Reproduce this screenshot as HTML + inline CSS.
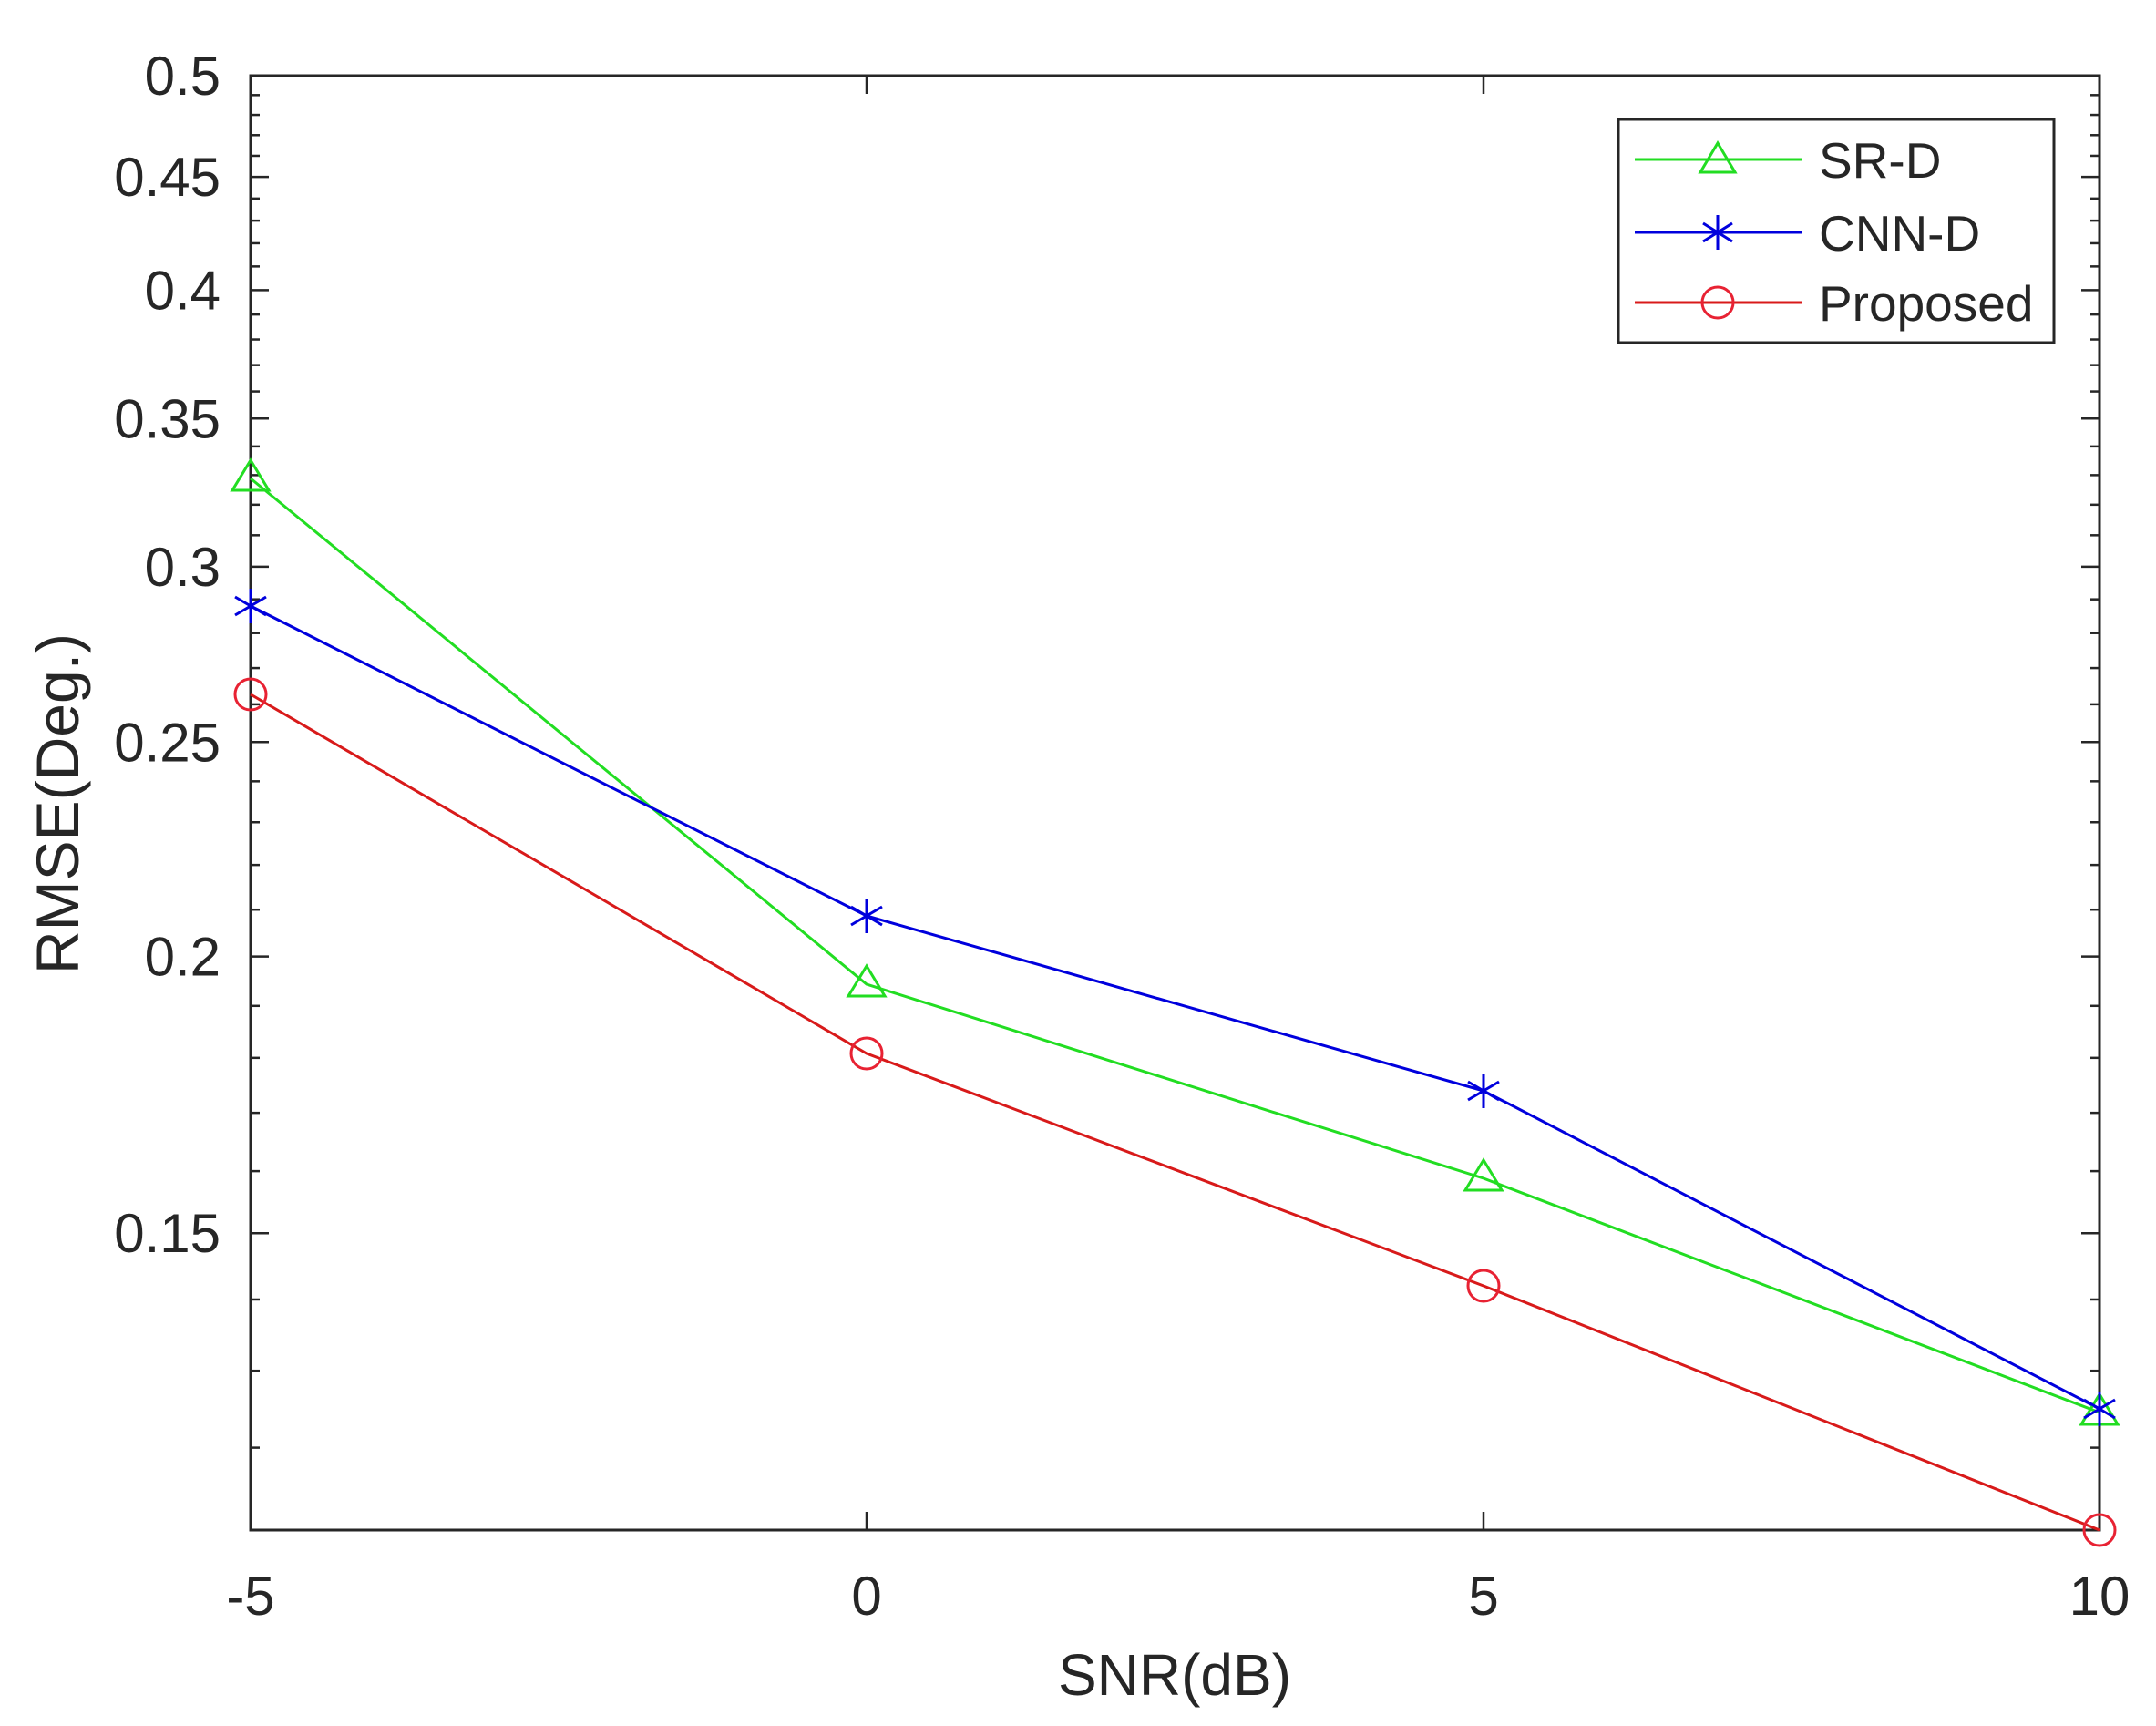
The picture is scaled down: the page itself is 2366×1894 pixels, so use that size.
<!DOCTYPE html>
<html><head><meta charset="utf-8"><style>
html,body{margin:0;padding:0;background:#fff;}
svg{display:block;}
text{font-family:"Liberation Sans",Arial,sans-serif;fill:#262626;}
</style></head><body>
<svg width="2366" height="1894" viewBox="0 0 2366 1894" xmlns="http://www.w3.org/2000/svg">
<rect width="2366" height="1894" fill="#fff"/>
<g id="ticks" stroke="#262626" stroke-width="2.5"></g>
<rect x="275" y="83" width="2029" height="1596" fill="none" stroke="#262626" stroke-width="3"/>
<g id="labels" font-size="60"></g>
<text x="1289" y="1860" font-size="64" text-anchor="middle">SNR(dB)</text>
<text transform="translate(86,882) rotate(-90)" font-size="66" text-anchor="middle">RMSE(Deg.)</text>
<g id="series" fill="none" stroke-width="3"></g>
<rect x="1776" y="131" width="478" height="245" fill="#fff" stroke="#262626" stroke-width="3"/>
<g fill="none" stroke-width="3">
<line x1="1794" y1="175" x2="1977" y2="175" stroke="#22dd22"/>
<polygon points="1885,157 1904,189 1866,189" stroke="#22dd22"/>
<line x1="1794" y1="255" x2="1977" y2="255" stroke="#0000dd"/>
<g stroke="#0000dd"><line x1="1885" y1="236" x2="1885" y2="274"/><line x1="1869" y1="245" x2="1901" y2="265"/><line x1="1869" y1="265" x2="1901" y2="245"/></g>
<line x1="1794" y1="332" x2="1977" y2="332" stroke="#d81a1a"/>
<circle cx="1885" cy="332" r="17" stroke="#e82233"/>
</g>
<g font-size="55">
<text x="1996" y="195">SR-D</text>
<text x="1996" y="275">CNN-D</text>
<text x="1996" y="352">Proposed</text>
</g>
</svg>
<script>
(function(){
var NS="http://www.w3.org/2000/svg";
function Y(v){return 83+1055*Math.log(0.5/v);}
var L=275,R=2304,T=83,B=1679;
var tk=document.getElementById("ticks"),lb=document.getElementById("labels"),sr=document.getElementById("series");
function el(p,tag,a,txt){var e=document.createElementNS(NS,tag);for(var k in a)e.setAttribute(k,a[k]);if(txt)e.textContent=txt;p.appendChild(e);return e;}
for(var i=12;i<=50;i++){var v=i/100,y=Y(v);var major=(i%5==0)&&i>=15;var len=major?20:10;
el(tk,"line",{x1:L,y1:y,x2:L+len,y2:y});el(tk,"line",{x1:R,y1:y,x2:R-len,y2:y});
if(major){var s=(i==50?"0.5":(i%10==0?(v.toFixed(1)):v.toFixed(2)));el(lb,"text",{x:242,y:y+21,"text-anchor":"end"},s);}}
var xs=[275,951,1628,2304],xl=["-5","0","5","10"];
for(var j=0;j<4;j++){el(tk,"line",{x1:xs[j],y1:B,x2:xs[j],y2:B-20});el(tk,"line",{x1:xs[j],y1:T,x2:xs[j],y2:T+20});
el(lb,"text",{x:xs[j],y:1772,"text-anchor":"middle"},xl[j]);}
var G=[525,1080,1293,1550],Bl=[665,1005,1197,1546],Rd=[762,1156,1411,1679];
function poly(ys,c){el(sr,"polyline",{points:xs.map(function(x,k){return x+","+ys[k];}).join(" "),stroke:c});}
poly(G,"#22dd22");poly(Bl,"#0000dd");poly(Rd,"#d81a1a");
for(var k=0;k<4;k++){var x=xs[k];
el(sr,"polygon",{points:x+","+(G[k]-20)+" "+(x+20)+","+(G[k]+13)+" "+(x-20)+","+(G[k]+13),stroke:"#22dd22"});
var y=Bl[k];el(sr,"line",{x1:x,y1:y-19,x2:x,y2:y+19,stroke:"#0000dd"});el(sr,"line",{x1:x-17,y1:y-10,x2:x+17,y2:y+10,stroke:"#0000dd"});el(sr,"line",{x1:x-17,y1:y+10,x2:x+17,y2:y-10,stroke:"#0000dd"});
el(sr,"circle",{cx:x,cy:Rd[k],r:17,stroke:"#e82233"});}
})();
</script>
</body></html>
